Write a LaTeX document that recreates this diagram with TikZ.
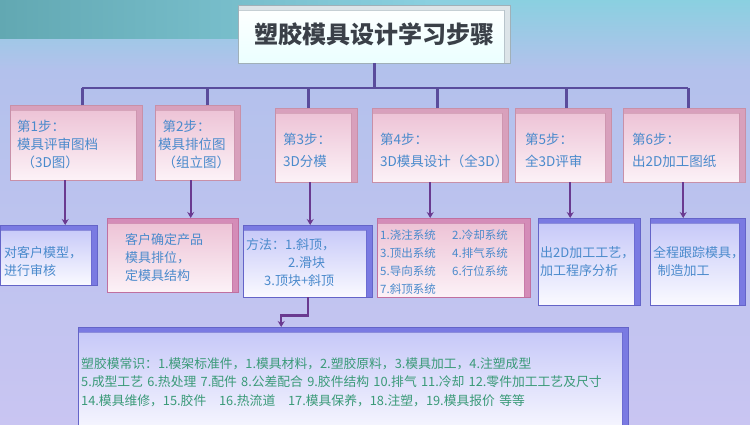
\documentclass[tikz,border=0pt]{standalone}
\usepackage{fontspec}
\setmainfont{Noto Sans CJK SC}
\usetikzlibrary{calc,arrows.meta}
\definecolor{bgtop}{HTML}{8AD0E0}
\definecolor{bgmid}{HTML}{B3C1EC}
\definecolor{bgbot}{HTML}{C9C5F2}
\definecolor{teal1}{HTML}{62A8B2}
\definecolor{conncol}{HTML}{5A4C9C}
\definecolor{arrcol}{HTML}{6A3A90}
\definecolor{pinktop}{HTML}{ECC0D4}
\definecolor{pinkbot}{HTML}{FCF2F7}
\definecolor{pinkstrip}{HTML}{D8A0BC}
\definecolor{pinkline}{HTML}{C890A8}
\definecolor{pinkstrip2}{HTML}{D48CB8}
\definecolor{pinkline2}{HTML}{C070A0}
\definecolor{bluetop}{HTML}{C4C6F8}
\definecolor{bluebot}{HTML}{FAFAFF}
\definecolor{bluestrip}{HTML}{7A7AE2}
\definecolor{blueline}{HTML}{6464C8}
\definecolor{graystrip}{HTML}{DCE4E8}
\definecolor{grayline}{HTML}{A0B0B8}
\definecolor{txtblue}{HTML}{4A8ACC}
\definecolor{txtgreen}{HTML}{3A9A78}
\definecolor{titletxt}{HTML}{3A4048}
\newcommand\tp[1]{\rule{0pt}{#1}}
\tikzset{
  conn/.style={draw=conncol, line width=2.6pt},
  arr/.style={draw=arrcol, line width=2.2pt, -{Stealth[length=6pt,width=7pt]}},
  basebox/.style={anchor=north west, align=left, inner ysep=2pt, text=txtblue,
     font=\fontsize{13}{18}\selectfont},
  stepbox/.style={basebox, top color=pinktop, bottom color=pinkbot,
     font=\fontsize{13.5}{22}\selectfont},
  pinkbox/.style={basebox, top color=pinktop, bottom color=pinkbot},
  bluebox/.style={basebox, top color=bluetop, bottom color=bluebot},
}
\newcommand\cubeface[3]{%
  \fill[#2] (#1.north west) rectangle ([yshift=-5pt]#1.north east);
  \fill[#2] ([xshift=-6pt]#1.north east) rectangle (#1.south east);
  \draw[#3, draw opacity=0.6, line width=0.5pt] ([xshift=-6pt,yshift=-5pt]#1.north east) -- ([xshift=-6pt]#1.south east);
  \draw[#3, draw opacity=0.6, line width=0.5pt] ([yshift=-5pt]#1.north west) -- ([xshift=-6pt,yshift=-5pt]#1.north east);
  \draw[#3, line width=0.9pt] (#1.north west) rectangle (#1.south east);
}
\begin{document}
\begin{tikzpicture}[x=1pt,y=-1pt]
\useasboundingbox (0,0) rectangle (750,424);
% background
\shade[top color=bgtop, bottom color=bgmid] (0,0) rectangle (750,70);
\shade[top color=bgmid, bottom color=bgbot] (0,70) rectangle (750,424.5);
\shade[left color=teal1, right color=bgtop] (0,0) rectangle (430,38);

% title
\node[anchor=north west, minimum width=272pt, minimum height=58pt, inner sep=0pt,
  top color=white, bottom color=white!92!cyan, text=titletxt,
  font=\fontsize{24}{28}\selectfont\bfseries] (title) at (238,5) {塑胶模具设计学习步骤};
\cubeface{title}{graystrip}{grayline}

% step boxes
\node[stepbox, inner xsep=7pt, text width=118pt, minimum height=75pt,
  font=\fontsize{13.5}{18}\selectfont] (s1) at (10,105)
  {\tp{14pt}第1步：\\模具评审图档\\\ （3D图）};
\node[stepbox, inner xsep=3pt, text width=79pt, minimum height=75pt,
  font=\fontsize{13.5}{18}\selectfont] (s2) at (155,105)
  {\tp{14pt}\ 第2步：\\模具排位图\\\ （组立图）};
\node[stepbox, inner xsep=8pt, text width=66pt, minimum height=74pt] (s3) at (275,108)
  {\tp{22pt}第3步：\\3D分模};
\node[stepbox, inner xsep=8pt, text width=120pt, minimum height=74pt] (s4) at (372,108)
  {\tp{22pt}第4步：\\3D模具设计（全3D）};
\node[stepbox, inner xsep=10pt, text width=76pt, minimum height=74pt] (s5) at (515,108)
  {\tp{22pt}第5步：\\全3D评审};
\node[stepbox, inner xsep=9pt, text width=104pt, minimum height=74pt] (s6) at (623,108)
  {\tp{22pt}第6步：\\出2D加工图纸};
\foreach \n in {s1,s2,s3,s4,s5,s6} {\cubeface{\n}{pinkstrip}{pinkline}}

% lower boxes
\node[bluebox, inner xsep=4pt, text width=89pt, minimum height=60pt] (l1) at (0,225)
  {\tp{23pt}对客户模型，\\进行审核};
\node[pinkbox, inner xsep=18pt, text width=95pt, minimum height=74pt] (l2) at (107,218)
  {\tp{16pt}客户确定产品\\模具排位，\\定模具结构};
\node[bluebox, inner xsep=3pt, text width=123pt, minimum height=72pt] (l3) at (243,225)
  {\tp{14pt}方法：1.斜顶，\\\hspace{42pt}2.滑块\\\hspace{18pt}3.顶块+斜顶};
\node[pinkbox, inner xsep=3pt, text width=147pt, minimum height=79pt,
  font=\fontsize{11.5}{18}\selectfont] (l4) at (377,218)
  {\tp{18pt}\makebox[72pt][l]{1.浇注系统}2.冷却系统\\\makebox[72pt][l]{3.顶出系统}4.排气系统\\\makebox[72pt][l]{5.导向系统}6.行位系统\\7.斜顶系统};
\node[bluebox, inner xsep=2pt, text width=98pt, minimum height=87pt] (l5) at (538,218)
  {出2D加工工艺，\\加工程序分析};
\node[bluebox, inner xsep=3pt, text width=89pt, minimum height=87pt] (l6) at (650,218)
  {全程跟踪模具，\\\ 制造加工};
\foreach \n in {l1,l3,l5,l6} {\cubeface{\n}{bluestrip}{blueline}}
\foreach \n in {l2,l4} {\cubeface{\n}{pinkstrip2}{pinkline2}}

% bottom box
\node[bluebox, inner xsep=3pt, text width=544pt, minimum height=110pt, text=txtgreen,
  font=\fontsize{12.8}{18.5}\selectfont] (b) at (78,327)
  {塑胶模常识：1.模架标准件，1.模具材料，2.塑胶原料，3.模具加工，4.注塑成型\\
   5.成型工艺 6.热处理 7.配件 8.公差配合 9.胶件结构 10.排气 11.冷却 12.零件加工工艺及尺寸\\
   14.模具维修，15.胶件\quad 16.热流道\quad 17.模具保养，18.注塑，19.模具报价\ 等等};
\cubeface{b}{bluestrip}{blueline}

% connectors
\coordinate (busL) at (82,88);
\coordinate (busR) at (688,88);
\draw[conn] (title.south) -- (title.south |- busL);
\draw[conn] (busL) -- (busR);
\draw[conn] ([xshift=6pt]s1.north) -- ([xshift=6pt]s1.north |- busL);
\draw[conn] ([xshift=9.5pt]s2.north) -- ([xshift=9.5pt]s2.north |- busL);
\draw[conn] ([xshift=-8pt]s3.north) -- ([xshift=-8pt]s3.north |- busL);
\draw[conn] ([xshift=-3pt]s4.north) -- ([xshift=-3pt]s4.north |- busL);
\draw[conn] ([xshift=3pt]s5.north) -- ([xshift=3pt]s5.north |- busL);
\draw[conn] ([xshift=4pt]s6.north) -- ([xshift=4pt]s6.north |- busL);

\draw[arr] ([xshift=-11pt]s1.south) -- ([xshift=-11pt]s1.south |- l1.north);
\draw[arr] ([xshift=-7pt]s2.south) -- ([xshift=-7pt]s2.south |- l2.north);
\draw[arr] ([xshift=-6pt]s3.south) -- ([xshift=-6pt]s3.south |- l3.north);
\draw[arr] ([xshift=-10pt]s4.south) -- ([xshift=-10pt]s4.south |- l4.north);
\draw[arr] ([xshift=7pt]s5.south) -- ([xshift=7pt]s5.south |- l5.north);
\draw[arr] ([xshift=-1pt]s6.south) -- ([xshift=-1pt]s6.south |- l6.north);
\draw[arr] (l3.south) -- ++(0,18) -| ([xshift=-72pt]b.north);
\end{tikzpicture}
\end{document}
